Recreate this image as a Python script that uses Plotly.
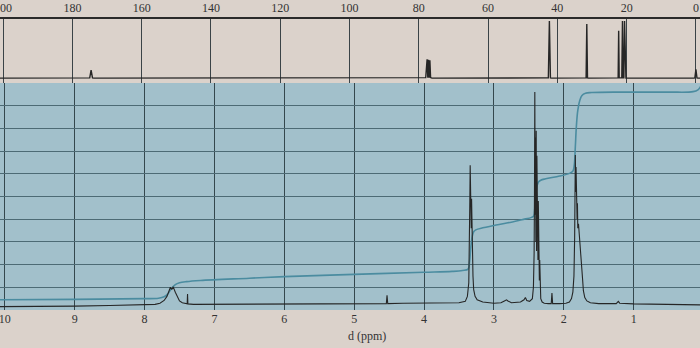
import plotly.graph_objects as go

# ---------------- data ----------------
# 13C spectrum (top): chemical shift (ppm) and trace height
c13_ppm = [202, 175.5, 175.0, 174.6, 174.2, 173.8, 130, 100, 78.5, 78.0, 77.6, 77.4, 77.2, 77.0,
           76.8, 76.6, 76.2, 43.0, 42.6, 42.3, 42.0, 41.6, 32.0, 31.7, 31.5, 31.3, 31.0, 22.7,
           22.45, 22.3, 22.15, 21.4, 21.2, 21.0, 20.8, 20.6, 20.4, 20.2, 0.6, 0.3, 0.0, -0.3, -0.6, -2]
c13_int = [5, 5, 5.2, 13, 5.2, 5, 5, 5, 5, 5.5, 24, 5.5, 23.5, 5.5,
           23, 5.5, 5, 5, 5.2, 63, 5.2, 5, 5, 5.2, 60, 5.2, 5, 5,
           5.2, 53, 5.2, 5.2, 63, 5.2, 5.2, 63, 5.2, 5, 5, 5.2, 14, 5.2, 5, 5]

# 1H spectrum (bottom): chemical shift (ppm) and trace height
h1_ppm = [10.1, 9.5, 9.0, 8.5, 8.0, 7.85, 7.78, 7.72, 7.68, 7.65, 7.63, 7.61, 7.59, 7.56, 7.53,
          7.5, 7.46, 7.42, 7.39, 7.385, 7.38, 7.3, 7.0, 6.5, 6.0, 5.5, 5.0, 4.54, 4.53, 4.52, 4.3,
          4.0, 3.7, 3.5, 3.41, 3.38, 3.36, 3.35, 3.345, 3.34, 3.335, 3.33, 3.325, 3.32, 3.315,
          3.31, 3.305, 3.30, 3.29, 3.27, 3.24, 3.16, 3.0, 2.9, 2.85, 2.82, 2.8, 2.75, 2.62, 2.57,
          2.55, 2.53, 2.49, 2.45, 2.435, 2.425, 2.42, 2.415, 2.41, 2.405, 2.40, 2.395, 2.39,
          2.385, 2.38, 2.375, 2.37, 2.365, 2.36, 2.355, 2.35, 2.345, 2.34, 2.33, 2.31, 2.28, 2.22,
          2.18, 2.17, 2.16, 2.06, 1.97, 1.92, 1.89, 1.87, 1.855, 1.845, 1.84, 1.835, 1.83, 1.825,
          1.82, 1.815, 1.81, 1.805, 1.80, 1.79, 1.78, 1.77, 1.76, 1.75, 1.74, 1.73, 1.72, 1.70,
          1.67, 1.62, 1.5, 1.25, 1.22, 1.2, 1.0, 0.5, 0.0, -0.05]
h1_int = [0.15, 0.15, 0.17, 0.2, 0.22, 0.25, 0.3, 0.42, 0.6, 0.85, 1.0, 0.9, 1.02, 0.78, 0.55,
          0.4, 0.32, 0.28, 0.27, 0.7, 0.27, 0.25, 0.25, 0.27, 0.27, 0.28, 0.28, 0.28, 0.65, 0.28, 0.3,
          0.3, 0.3, 0.32, 0.38, 0.6, 1.2, 2.6, 4.8, 6.38, 3.9, 5.6, 3.6, 4.9, 3.2,
          3.9, 2.4, 1.5, 0.9, 0.6, 0.45, 0.35, 0.3, 0.32, 0.4, 0.45, 0.4, 0.32, 0.35, 0.45,
          0.55, 0.42, 0.38, 0.5, 1.0, 2.5, 5.0, 9.6, 4.2, 7.6, 3.0, 7.9, 2.6,
          6.8, 2.4, 5.9, 2.2, 4.8, 1.9, 3.5, 1.3, 2.2, 0.8, 0.5, 0.35, 0.3, 0.28,
          0.28, 0.75, 0.28, 0.28, 0.3, 0.35, 0.5, 0.8, 1.5, 3.2, 5.0, 6.83, 5.2, 6.3,
          4.6, 5.6, 4.0, 4.7, 3.6, 3.8, 3.4, 3.2, 2.9, 2.5, 1.9, 1.3, 0.85, 0.55,
          0.4, 0.32, 0.28, 0.28, 0.38, 0.3, 0.27, 0.25, 0.22, 0.22]

# 1H integration curve
integ_ppm = [10.1, 9.0, 8.0, 7.8, 7.72, 7.67, 7.63, 7.6, 7.56, 7.5, 7.4, 7.2, 6.5, 6.0, 5.0, 4.0,
             3.6, 3.45, 3.37, 3.35, 3.33, 3.31, 3.29, 3.26, 3.16, 3.0, 2.8, 2.6, 2.46, 2.43, 2.415,
             2.40, 2.38, 2.36, 2.33, 2.26, 2.06, 1.92, 1.87, 1.85, 1.835, 1.82, 1.80, 1.77, 1.74, 1.69,
             1.6, 1.2, 0.5, 0.15, 0.08, 0.04, 0.0]
integ_val = [0.45, 0.47, 0.5, 0.52, 0.58, 0.7, 0.88, 1.0, 1.12, 1.2, 1.25, 1.3, 1.4, 1.47, 1.57, 1.66,
             1.7, 1.74, 1.8, 2.1, 2.8, 3.25, 3.45, 3.53, 3.62, 3.72, 3.84, 3.98, 4.08, 4.15, 4.5,
             5.1, 5.5, 5.65, 5.72, 5.78, 5.9, 6.02, 6.12, 6.4, 7.2, 8.1, 8.8, 9.25, 9.45, 9.55,
             9.58, 9.6, 9.6, 9.62, 9.7, 9.85, 10.0]

c13_ticks = [200, 180, 160, 140, 120, 100, 80, 60, 40, 20, 0]
h1_ticks = [10, 9, 8, 7, 6, 5, 4, 3, 2, 1, 0]

# ---------------- figure ----------------
SERIF = "Liberation Serif, Times New Roman, serif"
fig = go.Figure()
fig.add_trace(go.Scatter(x=c13_ppm, y=c13_int, mode="lines", xaxis="x", yaxis="y",
                         line=dict(color="#262626", width=1.4), showlegend=False, hoverinfo="skip"))
fig.add_trace(go.Scatter(x=integ_ppm, y=integ_val, mode="lines", xaxis="x2", yaxis="y2",
                         line=dict(color="#4b8ca0", width=1.6, shape="spline"),
                         showlegend=False, hoverinfo="skip"))
fig.add_trace(go.Scatter(x=h1_ppm, y=h1_int, mode="lines", xaxis="x2", yaxis="y2",
                         line=dict(color="#262626", width=1.1), showlegend=False, hoverinfo="skip"))

split = 0.780
fig.update_layout(
    width=700, height=348,
    margin=dict(l=0, r=0, t=19, b=38, pad=0, autoexpand=False),
    paper_bgcolor="#dbd2cb",
    plot_bgcolor="rgba(0,0,0,0)",
    xaxis=dict(domain=[0, 1], range=[200.9, -1.18], side="top", anchor="y",
               tickvals=c13_ticks, ticktext=[str(t) for t in c13_ticks],
               showgrid=True, gridcolor="#3a4347", gridwidth=1,
               showline=True, linecolor="#2a2a2a", linewidth=2, ticks="",
               zeroline=False, ticklabeloverflow="allow",
               tickfont=dict(family=SERIF, size=12, color="#333333")),
    yaxis=dict(domain=[split, 1], range=[0, 65], anchor="x", visible=False),
    xaxis2=dict(domain=[0, 1], range=[10.069, 0.051], anchor="y2", side="bottom",
                tickvals=h1_ticks, ticktext=[str(t) for t in h1_ticks],
                showgrid=True, gridcolor="#34474d", gridwidth=1,
                showline=False, ticks="", zeroline=False, ticklabelstandoff=0,
                ticklabeloverflow="allow",
                tickfont=dict(family=SERIF, size=12, color="#333333")),
    yaxis2=dict(domain=[0, split], range=[0, 10], anchor="x2", dtick=1,
                showgrid=True, gridcolor="#4d6b75", gridwidth=1.3,
                showticklabels=False, zeroline=False, ticks=""),
    shapes=[dict(type="rect", xref="x2 domain", yref="y2 domain", x0=0, x1=1, y0=0, y1=1,
                 fillcolor="#a2c0cb", line=dict(width=0), layer="below")],
    annotations=[dict(text="d (ppm)", xref="paper", yref="paper", x=0.524, y=-0.09,
                      showarrow=False, xanchor="center", yanchor="middle",
                      font=dict(family=SERIF, size=12, color="#333333"))],
)

fig.write_html("out.html")
